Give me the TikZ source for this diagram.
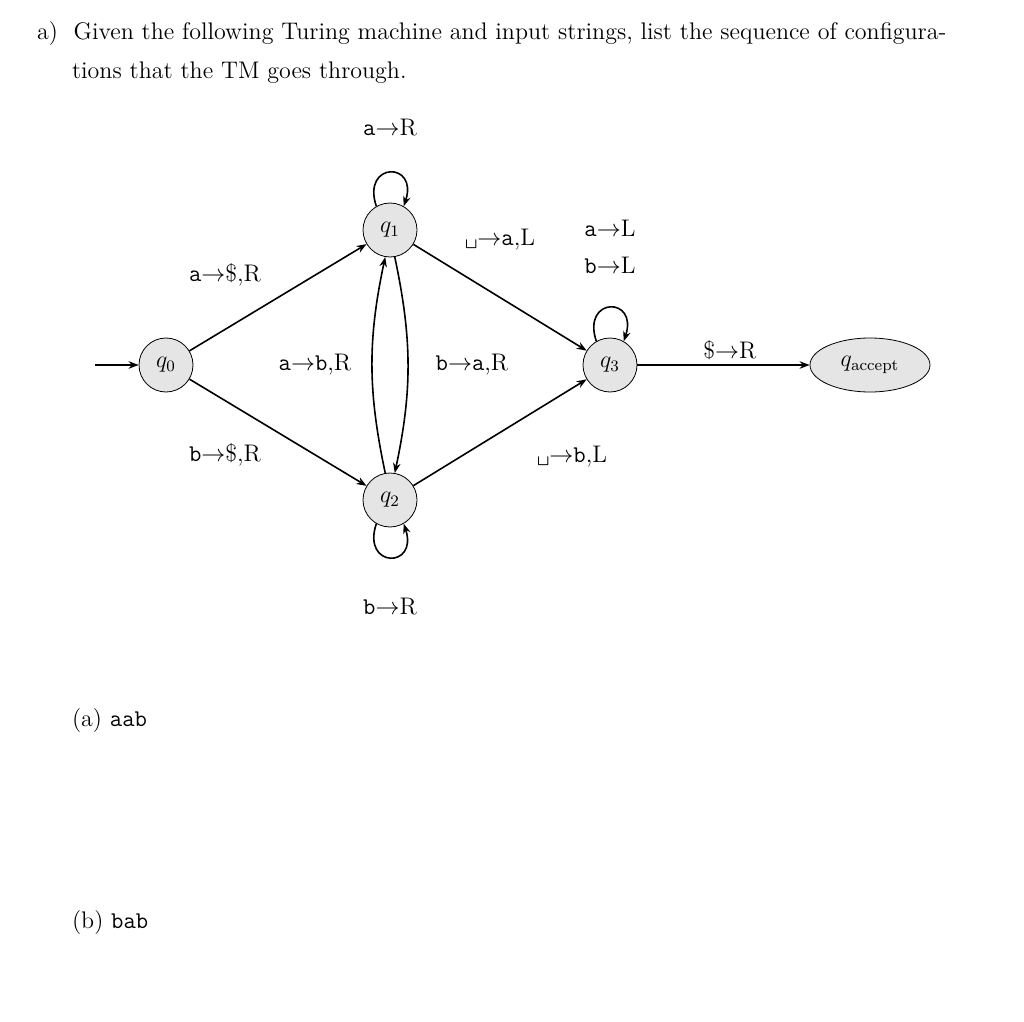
\documentclass[tikz,border=0pt]{standalone}
\usetikzlibrary{arrows.meta,shapes.geometric}
\begin{document}
\begin{tikzpicture}[x=0.5pt,y=-0.5pt,font=\fontsize{12}{14}\selectfont,
  st/.style={circle,draw,fill=gray!20,minimum size=27pt,inner sep=0pt},
  ed/.style={-{Stealth[length=5pt]},thick},
  lb/.style={inner sep=1pt}]
\useasboundingbox (0,0) rectangle (1024,1022);
\node[anchor=base west] (t1) at (30,40) {a)\ \ Given the following Turing machine and input strings, list the sequence of configura-};
\node[anchor=base west] (t2) at (65,79) {tions that the TM goes through.};
\node[st] (q0) at (166,365) {$q_0$};
\node[st] (q1) at (390,230) {$q_1$};
\node[st] (q2) at (390,500) {$q_2$};
\node[st] (q3) at (610,365) {$q_3$};
\node[ellipse,draw,fill=gray!20,minimum width=60pt,minimum height=27pt,inner sep=0pt] (qa) at (870,365) {$q_{\mathrm{accept}}$};
\coordinate (s) at (95,365);
\draw[ed] (s) -- (q0);
\draw[ed] (q0) -- (q1);
\draw[ed] (q0) -- (q2);
\draw[ed] (q1) -- (q3);
\draw[ed] (q2) -- (q3);
\draw[ed] (q3) -- (qa);
\draw[ed] (q2.100) to[bend left=12] (q1.260);
\draw[ed] (q1.280) to[bend left=12] (q2.80);
\draw[ed] (q1.120) .. controls +(-15,-45) and +(15,-45) .. (q1.60);
\draw[ed] (q3.120) .. controls +(-15,-45) and +(15,-45) .. (q3.60);
\draw[ed] (q2.240) .. controls +(-15,45) and +(15,45) .. (q2.300);
\node[lb] (l1) at (390,128) {\texttt{a}$\to$R};
\node[lb] (l2) at (390,607) {\texttt{b}$\to$R};
\node[lb] (l3) at (500,240) {\texttt{\textvisiblespace}$\to$\texttt{a},L};
\node[lb] (l4) at (610,228) {\texttt{a}$\to$L};
\node[lb] (l5) at (610,265) {\texttt{b}$\to$L};
\node[lb] (l6) at (225,275) {\texttt{a}$\to$\$,R};
\node[lb] (l7) at (225,455) {\texttt{b}$\to$\$,R};
\node[lb] (l8) at (315,365) {\texttt{a}$\to$\texttt{b},R};
\node[lb] (l9) at (472,365) {\texttt{b}$\to$\texttt{a},R};
\node[lb] (l10) at (572,457) {\texttt{\textvisiblespace}$\to$\texttt{b},L};
\node[lb] (l11) at (730,350) {\$$\to$R};
\node[anchor=base west] (pa) at (65,726) {(a)\ \texttt{aab}};
\node[anchor=base west] (pb) at (65,928) {(b)\ \texttt{bab}};
\end{tikzpicture}
\end{document}
